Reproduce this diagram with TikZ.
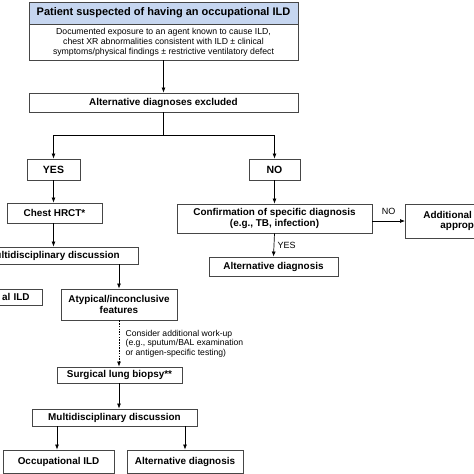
\documentclass[tikz,border=0pt]{standalone}
\usepackage{fontspec}
\setmainfont{Liberation Sans}
\usetikzlibrary{arrows.meta, positioning}
\definecolor{hdrblue}{RGB}{198,214,240}
\definecolor{boxgray}{RGB}{70,70,70}

\begin{document}
\begin{tikzpicture}[
		x=1pt, y=-1pt,
		box/.style={draw=boxgray, line width=0.9pt, inner sep=1pt, align=center, font=\fontsize{9.9}{11.5}\selectfont\bfseries},
		arrow/.style={-{Latex[length=5pt, width=4pt]}, line width=0.7pt}
	]
	\useasboundingbox (0,0) rectangle (474,474);
	\clip (0,0) rectangle (474,474);

		% Nodes
		\node[box, fill=hdrblue, minimum width=269, minimum height=22, font=\fontsize{11}{12}\selectfont\bfseries] (patient) at (163.5,13) {Patient suspected of having an occupational ILD};
		\node[box, minimum width=269, minimum height=36, font=\fontsize{8.7}{10.2}\selectfont] (expo) at (163.5,42) {Documented exposure to an agent known to cause ILD,\\chest XR abnormalities consistent with ILD ± clinical\\symptoms/physical findings ± restrictive ventilatory defect};
		\node[box, minimum width=269, minimum height=19] (excl) at (163.5,102.5) {Alternative diagnoses excluded};
		\node[box, minimum width=53, minimum height=21, font=\fontsize{10.5}{12}\selectfont\bfseries] (yes) at (53.5,169.5) {YES};
		\node[box, minimum width=51, minimum height=21, font=\fontsize{10.5}{12}\selectfont\bfseries] (no) at (274.5,169.5) {NO};
		\node[box, minimum width=95, minimum height=20] (hrct) at (54.5,213) {Chest HRCT*};
		\node[box, minimum width=195, minimum height=29, font=\fontsize{9.9}{10.5}\selectfont\bfseries] (confirm) at (274.5,218.5) {Confirmation of specific diagnosis\\(e.g., TB, infection)};
		\node[box, anchor=west, minimum height=34, text width=110, inner xsep=18, align=left, font=\fontsize{9.9}{10.5}\selectfont\bfseries] (addl) at (405,221) {Additional\\\hspace*{17pt}approp};
		\node[box, minimum width=129, minimum height=19] (altdx) at (273.5,266.5) {Alternative diagnosis};
		\node[box, minimum width=169, minimum height=17] (mdd) at (53.5,255.5) {Multidisciplinary discussion};
		\node[box, anchor=east, minimum height=16, text width=50, inner xsep=13, align=right] (typical) at (43,297) {al ILD};
		\node[box, minimum width=116, minimum height=31, font=\fontsize{9.9}{10.5}\selectfont\bfseries] (atyp) at (119,304.5) {Atypical/inconclusive\\features};
		\node[box, minimum width=125, minimum height=16] (slb) at (119.5,375) {Surgical lung biopsy**};
		\node[box, minimum width=165, minimum height=17] (mdd2) at (114.5,417.5) {Multidisciplinary discussion};
		\node[box, minimum width=111, minimum height=23] (occ) at (58.5,461.5) {Occupational ILD};
		\node[box, minimum width=116, minimum height=23] (alt2) at (185,461.5) {Alternative diagnosis};
		\coordinate (split) at (163.5,135);

		% Arrows
		\draw[arrow] (expo.south) -- (excl.north);
		\draw[line width=0.7pt] (excl.south) -- (split);
		\draw[arrow] (split) -| (yes.north);
		\draw[arrow] (split) -| (no.north);
		\draw[arrow] (yes.south) -- (yes.south |- hrct.north);
		\draw[arrow] (no.south) -- (confirm.north);
		\draw[arrow] (hrct.south -| mdd.north) -- (mdd.north);
		\draw[arrow] (confirm.south) -- node[right, font=\fontsize{9}{10}\selectfont] {YES} (altdx.north);
		\draw[arrow] (confirm.east |- addl.west) -- node[above, yshift=3pt, font=\fontsize{9}{10}\selectfont] {NO} (addl.west);
		\draw[arrow] (mdd.south -| atyp.north) -- (atyp.north);
		\draw[arrow, dashed, dash pattern=on 1.5pt off 1.2pt] (atyp.south) -- node[right, xshift=3pt, align=left, font=\fontsize{8.6}{9.5}\selectfont] {Consider additional work-up\\(e.g., sputum/BAL examination\\or antigen-specific testing)} (slb.north -| atyp.south);
		\draw[arrow] (slb.south -| atyp.south) -- (mdd2.north -| atyp.south);
		\draw[arrow] (mdd2.south -| 57,0) -- (occ.north -| 57,0);
		\draw[arrow] (mdd2.south -| alt2.north) -- (alt2.north);

	\end{tikzpicture}
\end{document}
